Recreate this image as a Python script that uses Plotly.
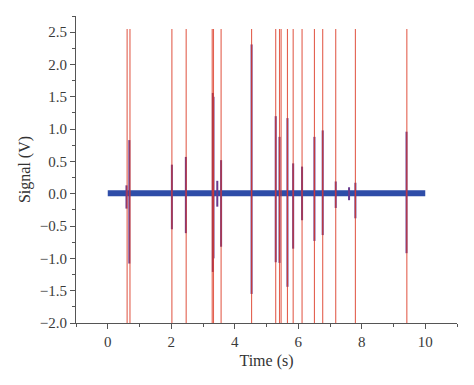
import plotly.graph_objects as go

# Event marker times (red vertical lines), seconds
event_times = [0.61, 0.70, 2.02, 2.47, 3.29, 3.33, 3.57, 4.53, 5.29, 5.41, 5.46,
               5.66, 5.84, 6.12, 6.51, 6.77, 7.18, 7.80, 9.42]
event_bottom = -2.0
event_top = 2.55

# Spikes in the blue signal: time, max, min (V)
spike_times = [0.59, 0.68, 2.02, 2.46, 3.31, 3.33, 3.45, 3.57, 4.53, 5.29, 5.41,
               5.66, 5.84, 6.12, 6.51, 6.77, 7.18, 7.60, 7.80, 9.41]
spike_max = [0.13, 0.83, 0.45, 0.57, 1.56, 1.50, 0.20, 0.52, 2.31, 1.20, 0.88,
             1.17, 0.47, 0.42, 0.88, 0.98, 0.19, 0.10, 0.17, 0.96]
spike_min = [-0.23, -1.08, -0.55, -0.61, -1.21, -1.00, -0.20, -0.82, -1.55, -1.06, -1.07,
             -1.44, -0.85, -0.41, -0.73, -0.64, -0.22, -0.10, -0.38, -0.92]

# Noise band of the baseline signal
band_t = [0.0, 10.0]
band_top = [0.055, 0.055]
band_bottom = [-0.04, -0.04]

blue = "#2E4DA8"
red = "#DD3A25"

fig = go.Figure()

# baseline noise band
fig.add_trace(go.Scatter(x=band_t, y=band_bottom, mode="lines",
                         line=dict(color=blue, width=0), hoverinfo="skip",
                         showlegend=False))
fig.add_trace(go.Scatter(x=band_t, y=band_top, mode="lines", fill="tonexty",
                         fillcolor=blue, line=dict(color=blue, width=0),
                         hoverinfo="skip", showlegend=False))

# spikes
sx, sy = [], []
for t, hi, lo in zip(spike_times, spike_max, spike_min):
    sx += [t, t, None]
    sy += [lo, hi, None]
fig.add_trace(go.Scatter(x=sx, y=sy, mode="lines",
                         line=dict(color="#6A3A8E", width=2),
                         showlegend=False, hoverinfo="skip"))

# event lines
ex, ey = [], []
for t in event_times:
    ex += [t, t, None]
    ey += [event_bottom, event_top, None]
fig.add_trace(go.Scatter(x=ex, y=ey, mode="lines",
                         line=dict(color=red, width=1.1), opacity=0.8,
                         showlegend=False, hoverinfo="skip"))

axis_font = dict(family="Liberation Serif, Times New Roman, serif", size=15, color="#3a3a3a")
title_font = dict(family="Liberation Serif, Times New Roman, serif", size=16, color="#333333")

fig.update_layout(
    width=474, height=385,
    margin=dict(l=76, r=17, t=16, b=62),
    plot_bgcolor="white", paper_bgcolor="white",
    showlegend=False,
    xaxis=dict(range=[-1, 11], tickvals=[0, 2, 4, 6, 8, 10], showgrid=False, automargin=False,
               zeroline=False, showline=True, linecolor="#555555", linewidth=1,
               ticks="outside", ticklen=5, tickcolor="#555555", tickfont=axis_font,
               minor=dict(dtick=1, tick0=0, ticks="outside", ticklen=3, tickcolor="#555555", showgrid=False),
               title=dict(text="Time (s)", font=title_font, standoff=5)),
    yaxis=dict(range=[-2, 2.75], tickvals=[-2.0, -1.5, -1.0, -0.5, 0.0, 0.5, 1.0, 1.5, 2.0, 2.5],
               ticktext=["−2.0", "−1.5", "−1.0", "−0.5", "0.0", "0.5", "1.0", "1.5", "2.0", "2.5"],
               showgrid=False, zeroline=False, showline=True, linecolor="#555555", linewidth=1,
               automargin=False,
               ticks="outside", ticklen=5, tickcolor="#555555", tickfont=axis_font,
               minor=dict(dtick=0.25, tick0=0, ticks="outside", ticklen=3, tickcolor="#555555", showgrid=False),
               title=dict(text="Signal (V)", font=title_font, standoff=5)),
)

fig.write_html("out.html", config={"displayModeBar": False},
               post_script=["document.body.style.margin='0';"])
